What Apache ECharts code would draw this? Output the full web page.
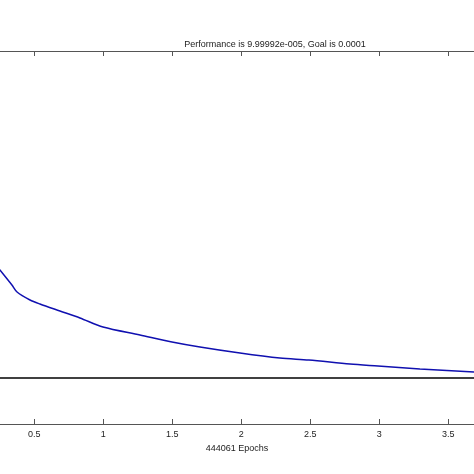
<!DOCTYPE html><html><head><meta charset="utf-8"><script src="https://cdn.jsdelivr.net/npm/echarts@6/dist/echarts.min.js"></script><style>html,body{margin:0;background:#fff}#c{width:474px;height:474px}</style></head><body><div id="c"></div><script>
const epochs=[0.2,0.251,0.338,0.375,0.469,0.541,0.686,0.831,0.998,1.266,1.498,1.701,1.991,2.280,2.490,2.788,2.991,3.295,3.687,4.44];
const perf=[0.035,0.0223,0.01052,0.00741,0.00497,0.00406,0.00286,0.00202,0.00128,0.000861,0.000607,0.000472,0.000349,0.000272,0.000246,0.000201,0.000182,0.000157,0.000135,0.0001];
const goal=0.0001;
const tickVals=[0.5,1,1.5,2,2.5,3,3.5];
const titleText='Performance is 9.99992e-005, Goal is 0.0001';
const xLabel='444061 Epochs';
const c=echarts.init(document.getElementById('c'));
const ax={show:true,lineStyle:{color:'#555',width:1}};
const xmin=0.2515,xmax=3.687;
c.setOption({animation:false,
title:{text:titleText,left:270,top:35,textAlign:'center',textStyle:{fontFamily:'Liberation Sans',fontSize:9,fontWeight:'normal',color:'#222'}},
grid:{left:0,right:0,top:51,bottom:50},
xAxis:[{type:'value',min:xmin,max:xmax,name:xLabel,nameLocation:'middle',nameGap:12,nameTextStyle:{fontFamily:'Liberation Sans',fontSize:9,color:'#222'},axisLine:ax,axisTick:{inside:true,length:5,customValues:tickVals,lineStyle:{color:'#555'}},axisLabel:{customValues:tickVals,fontFamily:'Liberation Sans',fontSize:9,color:'#222',margin:6},splitLine:{show:false}},
{type:'value',position:'top',min:xmin,max:xmax,axisLine:ax,axisTick:{inside:true,length:5,customValues:tickVals,lineStyle:{color:'#555'}},axisLabel:{show:false},splitLine:{show:false}}],
yAxis:{type:'log',min:1e-5,max:1288,axisLine:{show:false},axisLabel:{show:false},axisTick:{show:false},splitLine:{show:false}},
series:[{type:'line',data:epochs.map((e,i)=>[e,perf[i]]),showSymbol:false,smooth:0.3,lineStyle:{color:'#1010b0',width:1.5}},
{type:'line',data:[[xmin,goal],[xmax,goal]],showSymbol:false,lineStyle:{color:'#000',width:1.5}}]});
</script></body></html>
